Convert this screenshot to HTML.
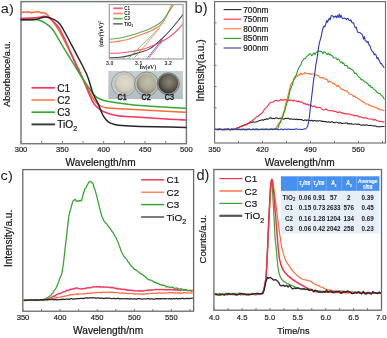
<!DOCTYPE html>
<html><head><meta charset="utf-8"><style>
html,body{margin:0;padding:0;background:#fff;width:387px;height:338px;overflow:hidden}
svg{display:block;font-family:"Liberation Sans", sans-serif;will-change:transform}
</style></head><body>
<svg width="387" height="338" viewBox="0 0 387 338">
<text transform="translate(0.8,13.4) scale(1.12,1)" font-size="13" fill="#1a1a1a">a)</text>
<rect x="21" y="1.6" width="165.4" height="142.1" fill="none" stroke="#737878" stroke-width="1.45"/>
<text x="21.0" y="152.4" font-size="7.6" text-anchor="middle" fill="#1e1e1e" stroke="#1e1e1e" stroke-width="0.2" >300</text>
<text x="62.35" y="152.4" font-size="7.6" text-anchor="middle" fill="#1e1e1e" stroke="#1e1e1e" stroke-width="0.2" >350</text>
<text x="103.7" y="152.4" font-size="7.6" text-anchor="middle" fill="#1e1e1e" stroke="#1e1e1e" stroke-width="0.2" >400</text>
<text x="145.05" y="152.4" font-size="7.6" text-anchor="middle" fill="#1e1e1e" stroke="#1e1e1e" stroke-width="0.2" >450</text>
<text x="186.4" y="152.4" font-size="7.6" text-anchor="middle" fill="#1e1e1e" stroke="#1e1e1e" stroke-width="0.2" >500</text>
<line x1="21.00" y1="143.00" x2="21.00" y2="141.00" stroke="#777b7b" stroke-width="1"/>
<line x1="41.67" y1="143.00" x2="41.67" y2="141.00" stroke="#777b7b" stroke-width="1"/>
<line x1="62.35" y1="143.00" x2="62.35" y2="141.00" stroke="#777b7b" stroke-width="1"/>
<line x1="83.03" y1="143.00" x2="83.03" y2="141.00" stroke="#777b7b" stroke-width="1"/>
<line x1="103.70" y1="143.00" x2="103.70" y2="141.00" stroke="#777b7b" stroke-width="1"/>
<line x1="124.38" y1="143.00" x2="124.38" y2="141.00" stroke="#777b7b" stroke-width="1"/>
<line x1="145.05" y1="143.00" x2="145.05" y2="141.00" stroke="#777b7b" stroke-width="1"/>
<line x1="165.72" y1="143.00" x2="165.72" y2="141.00" stroke="#777b7b" stroke-width="1"/>
<line x1="186.40" y1="143.00" x2="186.40" y2="141.00" stroke="#777b7b" stroke-width="1"/>
<text x="100.6" y="166" font-size="10.15" text-anchor="middle" fill="#111" stroke="#111" stroke-width="0.2" >Wavelength/nm</text>
<text transform="translate(9.8,74) rotate(-90)" font-size="9" text-anchor="middle" fill="#161616" stroke="#161616" stroke-width="0.2">Absorbance/a.u.</text>
<path d="M21.00,12.14 L21.90,12.58 L22.80,12.45 L23.70,12.02 L24.60,12.12 L25.50,12.03 L26.40,12.13 L27.30,12.20 L28.20,11.73 L29.10,11.81 L30.00,12.62 L30.90,12.62 L31.80,12.98 L32.70,12.33 L33.60,12.31 L34.50,12.14 L35.40,11.56 L36.30,12.02 L37.20,12.08 L38.10,11.61 L39.00,11.79 L39.90,12.35 L40.80,12.84 L41.70,12.65 L42.60,12.72 L43.50,13.01 L44.40,12.89 L45.30,13.27 L46.20,13.89 L47.10,14.69 L48.00,15.52 L48.90,16.60 L49.80,17.61 L50.70,18.87 L51.60,19.99 L52.50,21.15 L53.40,22.34 L54.30,23.57 L55.20,24.83 L56.10,26.15 L57.00,27.50 L57.90,28.89 L58.80,30.39 L59.70,31.96 L60.60,33.59 L61.50,35.27 L62.40,36.96 L63.30,38.67 L64.20,40.40 L65.10,42.13 L66.00,43.88 L66.90,45.63 L67.80,47.38 L68.70,49.14 L69.60,50.91 L70.50,52.68 L71.40,54.46 L72.30,56.25 L73.20,58.05 L74.10,59.85 L75.00,61.67 L75.90,63.51 L76.80,65.38 L77.70,67.27 L78.60,69.18 L79.50,71.10 L80.40,73.02 L81.30,74.94 L82.20,76.84 L83.10,78.71 L84.00,80.58 L84.90,82.45 L85.80,84.32 L86.70,86.19 L87.60,88.04 L88.50,89.86 L89.40,91.65 L90.30,93.38 L91.20,95.05 L92.10,96.67 L93.00,98.24 L93.90,99.67 L94.80,100.91 L95.70,101.97 L96.60,102.89 L97.50,103.72 L98.40,104.44 L99.30,105.09 L100.20,105.64 L101.10,106.11 L102.00,106.51 L102.90,106.86 L103.80,107.14 L104.70,107.37 L105.60,107.55 L106.50,107.70 L107.40,107.82 L108.30,107.92 L109.20,108.00 L110.10,108.08 L111.00,108.15 L111.90,108.22 L112.80,108.29 L113.70,108.37 L114.60,108.46 L115.50,108.54 L116.40,108.61 L117.30,108.67 L118.20,108.71 L119.10,108.76 L120.00,108.80 L120.90,108.84 L121.80,108.89 L122.70,108.94 L123.60,108.98 L124.50,109.03 L125.40,109.07 L126.30,109.12 L127.20,109.16 L128.10,109.20 L129.00,109.25 L129.90,109.29 L130.80,109.33 L131.70,109.38 L132.60,109.42 L133.50,109.46 L134.40,109.51 L135.30,109.55 L136.20,109.60 L137.10,109.65 L138.00,109.69 L138.90,109.74 L139.80,109.79 L140.70,109.84 L141.60,109.89 L142.50,109.94 L143.40,109.99 L144.30,110.04 L145.20,110.09 L146.10,110.14 L147.00,110.19 L147.90,110.24 L148.80,110.29 L149.70,110.34 L150.60,110.40 L151.50,110.45 L152.40,110.50 L153.30,110.55 L154.20,110.60 L155.10,110.65 L156.00,110.71 L156.90,110.76 L157.80,110.81 L158.70,110.86 L159.60,110.91 L160.50,110.96 L161.40,111.02 L162.30,111.07 L163.20,111.12 L164.10,111.17 L165.00,111.22 L165.90,111.27 L166.80,111.32 L167.70,111.37 L168.60,111.42 L169.50,111.47 L170.40,111.52 L171.30,111.57 L172.20,111.62 L173.10,111.67 L174.00,111.71 L174.90,111.76 L175.80,111.80 L176.70,111.85 L177.60,111.89 L178.50,111.94 L179.40,111.98 L180.30,112.03 L181.20,112.07 L182.10,112.11 L183.00,112.16 L183.90,112.20 L184.80,112.24 L185.70,112.29" fill="none" stroke="#ff6a36" stroke-width="1.5" stroke-linejoin="round" stroke-linecap="round" />
<path d="M21.00,18.40 C23.33,18.32 31.17,18.23 35.00,17.90 C38.83,17.57 42.00,16.57 44.00,16.40 C46.00,16.23 45.50,16.13 47.00,16.90 C48.50,17.67 51.17,19.37 53.00,21.00 C54.83,22.63 56.67,24.95 58.00,26.70 C59.33,28.45 59.43,28.45 61.00,31.50 C62.57,34.55 64.95,39.55 67.40,45.00 C69.85,50.45 73.10,58.45 75.70,64.20 C78.30,69.95 80.17,73.27 83.00,79.50 C85.83,85.73 90.20,96.87 92.70,101.60 C95.20,106.33 96.23,106.27 98.00,107.90 C99.77,109.53 100.63,110.22 103.30,111.40 C105.97,112.58 110.88,114.20 114.00,115.00 C117.12,115.80 117.67,115.82 122.00,116.20 C126.33,116.58 132.00,116.78 140.00,117.30 C148.00,117.82 162.33,118.85 170.00,119.30 C177.67,119.75 183.33,119.88 186.00,120.00" fill="none" stroke="#f5365e" stroke-width="1.6" stroke-linejoin="round" stroke-linecap="round" />
<path d="M21.00,20.00 C23.33,19.92 31.83,19.42 35.00,19.50 C38.17,19.58 38.17,19.82 40.00,20.50 C41.83,21.18 44.17,22.40 46.00,23.60 C47.83,24.80 49.50,26.12 51.00,27.70 C52.50,29.28 52.60,29.27 55.00,33.10 C57.40,36.93 61.95,45.00 65.40,50.70 C68.85,56.40 72.93,62.80 75.70,67.30 C78.47,71.80 79.77,74.20 82.00,77.70 C84.23,81.20 87.03,85.35 89.10,88.30 C91.17,91.25 92.62,93.62 94.40,95.40 C96.18,97.18 97.43,97.97 99.80,99.00 C102.17,100.03 104.90,100.87 108.60,101.60 C112.30,102.33 116.77,102.75 122.00,103.40 C127.23,104.05 132.00,104.82 140.00,105.50 C148.00,106.18 162.33,107.03 170.00,107.50 C177.67,107.97 183.33,108.17 186.00,108.30" fill="none" stroke="#35a832" stroke-width="1.5" stroke-linejoin="round" stroke-linecap="round" />
<path d="M21.00,19.70 C23.33,19.67 31.17,19.92 35.00,19.50 C38.83,19.08 41.50,17.47 44.00,17.20 C46.50,16.93 47.67,17.10 50.00,17.90 C52.33,18.70 55.78,20.07 58.00,22.00 C60.22,23.93 60.35,24.37 63.30,29.50 C66.25,34.63 71.75,45.22 75.70,52.80 C79.65,60.38 84.17,68.33 87.00,75.00 C89.83,81.67 90.87,88.07 92.70,92.80 C94.53,97.53 96.23,99.55 98.00,103.40 C99.77,107.25 101.53,112.78 103.30,115.90 C105.07,119.02 106.53,120.63 108.60,122.10 C110.67,123.57 113.47,124.12 115.70,124.70 C117.93,125.28 117.95,125.32 122.00,125.60 C126.05,125.88 132.00,126.15 140.00,126.40 C148.00,126.65 162.33,126.93 170.00,127.10 C177.67,127.27 183.33,127.35 186.00,127.40" fill="none" stroke="#262626" stroke-width="1.5" stroke-linejoin="round" stroke-linecap="round" />
<line x1="31.5" y1="87.80" x2="55.1" y2="87.80" stroke="#f5365e" stroke-width="1.7"/>
<text x="57.2" y="91.5" font-size="10.2" text-anchor="start" fill="#161616" stroke="#161616" stroke-width="0.2" >C1</text>
<line x1="31.5" y1="100.00" x2="55.1" y2="100.00" stroke="#ff6a36" stroke-width="1.4"/>
<text x="57.2" y="103.7" font-size="10.2" text-anchor="start" fill="#161616" stroke="#161616" stroke-width="0.2" >C2</text>
<line x1="31.5" y1="112.20" x2="55.1" y2="112.20" stroke="#35a832" stroke-width="1.7"/>
<text x="57.2" y="115.89999999999999" font-size="10.2" text-anchor="start" fill="#161616" stroke="#161616" stroke-width="0.2" >C3</text>
<line x1="31.5" y1="124.40" x2="55.1" y2="124.40" stroke="#3a3a3a" stroke-width="1.9"/>
<text x="57.2" y="128.1" font-size="10.2" text-anchor="start" fill="#161616" stroke="#161616" stroke-width="0.2" >TiO<tspan font-size="7" dy="3">2</tspan></text>
<rect x="109.3" y="4.5" width="73.8" height="54.5" fill="none" stroke="#9aa3a3" stroke-width="1.2"/>
<text transform="translate(102.6,34) rotate(-90)" font-family="Liberation Serif, serif" font-size="5.4" font-weight="bold" text-anchor="middle" fill="#111">(αhν)<tspan dy="-2" font-size="3.6">2</tspan><tspan dy="2">(eV)</tspan><tspan dy="-2" font-size="3.6">2</tspan></text>
<text x="109.7" y="65" font-size="5.2" text-anchor="middle" fill="#333" stroke="#333" stroke-width="0" font-weight="bold">3.0</text>
<text x="138.7" y="65" font-size="5.2" text-anchor="middle" fill="#333" stroke="#333" stroke-width="0" font-weight="bold">3.1</text>
<text x="168.2" y="65" font-size="5.2" text-anchor="middle" fill="#333" stroke="#333" stroke-width="0" font-weight="bold">3.2</text>
<line x1="123.50" y1="59.00" x2="123.50" y2="57.50" stroke="#8a9393" stroke-width="0.8"/>
<line x1="138.10" y1="59.00" x2="138.10" y2="57.50" stroke="#8a9393" stroke-width="0.8"/>
<line x1="153.30" y1="59.00" x2="153.30" y2="57.50" stroke="#8a9393" stroke-width="0.8"/>
<line x1="168.40" y1="59.00" x2="168.40" y2="57.50" stroke="#8a9393" stroke-width="0.8"/>
<text x="148" y="69.3" font-family="Liberation Serif, serif" font-size="5.8" font-weight="bold" text-anchor="middle" fill="#222">hν(eV)</text>
<clipPath id="ci"><rect x="109.8" y="5" width="72.8" height="53.5"/></clipPath>
<g clip-path="url(#ci)">
<path d="M109.50,42.40 C111.25,42.18 116.58,41.72 120.00,41.10 C123.42,40.48 126.67,39.73 130.00,38.70 C133.33,37.67 136.67,36.15 140.00,34.90 C143.33,33.65 146.67,32.77 150.00,31.20 C153.33,29.63 157.50,27.53 160.00,25.50 C162.50,23.47 163.58,21.25 165.00,19.00 C166.42,16.75 167.33,14.50 168.50,12.00 C169.67,9.50 171.42,5.33 172.00,4.00" fill="none" stroke="#ff6a36" stroke-width="1.1" stroke-linejoin="round" stroke-linecap="round" opacity="0.85"/>
<path d="M109.50,39.30 C111.25,39.08 116.58,38.63 120.00,38.00 C123.42,37.37 126.67,36.43 130.00,35.50 C133.33,34.57 136.67,33.53 140.00,32.40 C143.33,31.27 146.67,30.27 150.00,28.70 C153.33,27.13 157.50,24.87 160.00,23.00 C162.50,21.13 163.33,19.67 165.00,17.50 C166.67,15.33 168.50,12.25 170.00,10.00 C171.50,7.75 173.33,5.00 174.00,4.00" fill="none" stroke="#35a832" stroke-width="1.1" stroke-linejoin="round" stroke-linecap="round" opacity="0.85"/>
<path d="M109.50,57.90 C111.25,57.80 116.58,57.72 120.00,57.30 C123.42,56.88 126.67,56.23 130.00,55.40 C133.33,54.57 136.67,53.43 140.00,52.30 C143.33,51.17 146.67,50.57 150.00,48.60 C153.33,46.63 156.67,43.52 160.00,40.50 C163.33,37.48 166.67,34.18 170.00,30.50 C173.33,26.82 177.67,21.32 180.00,18.40 C182.33,15.48 183.33,13.90 184.00,13.00" fill="none" stroke="#262626" stroke-width="1.1" stroke-linejoin="round" stroke-linecap="round" opacity="0.85"/>
<path d="M109.50,53.30 C111.25,53.25 116.58,53.27 120.00,53.00 C123.42,52.73 126.67,52.22 130.00,51.70 C133.33,51.18 136.67,50.73 140.00,49.90 C143.33,49.07 146.67,47.93 150.00,46.70 C153.33,45.47 156.67,44.20 160.00,42.50 C163.33,40.80 167.00,38.67 170.00,36.50 C173.00,34.33 175.67,31.83 178.00,29.50 C180.33,27.17 183.00,23.67 184.00,22.50" fill="none" stroke="#f5365e" stroke-width="1.1" stroke-linejoin="round" stroke-linecap="round" opacity="0.85"/>
<g stroke-dasharray="1.6,1.1">
<path d="M128,58.8 L160,27.5" fill="none" stroke="#35a832" stroke-width="0.8" stroke-linejoin="round" stroke-linecap="round" />
<path d="M133.5,58.8 L159,29" fill="none" stroke="#ff6a36" stroke-width="0.8" stroke-linejoin="round" stroke-linecap="round" />
<path d="M146.5,59 L162,40" fill="none" stroke="#2a3cb0" stroke-width="0.8" stroke-linejoin="round" stroke-linecap="round" />
<path d="M148,59 L163.5,40" fill="none" stroke="#f5365e" stroke-width="0.8" stroke-linejoin="round" stroke-linecap="round" />
</g></g>
<line x1="113.2" y1="8.30" x2="122.7" y2="8.30" stroke="#f55a7a" stroke-width="1.7"/>
<text transform="translate(124.20,10.10) scale(0.9,1)" font-size="5" text-anchor="start" fill="#222" stroke="#222" stroke-width="0" font-weight="bold">C1</text>
<line x1="113.2" y1="13.47" x2="122.7" y2="13.47" stroke="#ff8a5a" stroke-width="1.7"/>
<text transform="translate(124.20,15.27) scale(0.9,1)" font-size="5" text-anchor="start" fill="#222" stroke="#222" stroke-width="0" font-weight="bold">C2</text>
<line x1="113.2" y1="18.64" x2="122.7" y2="18.64" stroke="#55bb50" stroke-width="1.7"/>
<text transform="translate(124.20,20.44) scale(0.9,1)" font-size="5" text-anchor="start" fill="#222" stroke="#222" stroke-width="0" font-weight="bold">C3</text>
<line x1="113.2" y1="23.81" x2="122.7" y2="23.81" stroke="#707070" stroke-width="1.7"/>
<text transform="translate(124.20,25.61) scale(0.9,1)" font-size="5" text-anchor="start" fill="#222" stroke="#222" stroke-width="0" font-weight="bold">TiO<tspan font-size="3.2" dy="1.2">2</tspan></text>
<defs><radialGradient id="d1" cx="0.55" cy="0.42" r="0.62"><stop offset="0" stop-color="#dcdacb"/><stop offset="0.7" stop-color="#d0cebe"/><stop offset="1" stop-color="#a3a595"/></radialGradient><radialGradient id="d2" cx="0.58" cy="0.4" r="0.65"><stop offset="0" stop-color="#c2c1ab"/><stop offset="0.6" stop-color="#aeac96"/><stop offset="1" stop-color="#707263"/></radialGradient><radialGradient id="d3" cx="0.55" cy="0.42" r="0.62"><stop offset="0" stop-color="#8a8676"/><stop offset="0.55" stop-color="#656255"/><stop offset="1" stop-color="#2c2c28"/></radialGradient><linearGradient id="pbg" x1="0" y1="0" x2="0" y2="1"><stop offset="0" stop-color="#c6cfd1"/><stop offset="1" stop-color="#b2bec1"/></linearGradient></defs>
<rect x="108.3" y="71" width="74.6" height="28.1" fill="url(#pbg)"/>
<circle cx="123.8" cy="84" r="12.3" fill="#c9cfcc" stroke="#8e9593" stroke-width="0.9"/>
<circle cx="124.4" cy="83.8" r="9.9" fill="url(#d1)" stroke="#b0b0a2" stroke-width="0.5"/>
<circle cx="146.6" cy="84" r="12" fill="#bcc2be" stroke="#7f8683" stroke-width="0.9"/>
<circle cx="146.6" cy="83.8" r="10.1" fill="url(#d2)"/>
<circle cx="168.3" cy="83.8" r="11" fill="#9fa6a4" stroke="#6a716f" stroke-width="0.9"/>
<circle cx="168.2" cy="83.6" r="9.9" fill="url(#d3)"/>
<text transform="translate(122.10,99.5) scale(0.86,1)" font-size="8.4" text-anchor="middle" fill="#111" stroke="#111" stroke-width="0.35">C1</text>
<text transform="translate(146.20,99.5) scale(0.86,1)" font-size="8.4" text-anchor="middle" fill="#111" stroke="#111" stroke-width="0.35">C2</text>
<text transform="translate(169.30,99.5) scale(0.86,1)" font-size="8.4" text-anchor="middle" fill="#111" stroke="#111" stroke-width="0.35">C3</text>
<text transform="translate(194.6,12.5) scale(1.04,1)" font-size="14" fill="#1a1a1a">b)</text>
<rect x="214.6" y="1.6" width="170.9" height="141.4" fill="none" stroke="#6a7070" stroke-width="1.15"/>
<text x="214.5" y="151.9" font-size="7.6" text-anchor="middle" fill="#1e1e1e" stroke="#1e1e1e" stroke-width="0.2" >350</text>
<text x="262.3" y="151.9" font-size="7.6" text-anchor="middle" fill="#1e1e1e" stroke="#1e1e1e" stroke-width="0.2" >420</text>
<text x="310.3" y="151.9" font-size="7.6" text-anchor="middle" fill="#1e1e1e" stroke="#1e1e1e" stroke-width="0.2" >490</text>
<text x="358.3" y="151.9" font-size="7.6" text-anchor="middle" fill="#1e1e1e" stroke="#1e1e1e" stroke-width="0.2" >560</text>
<line x1="214.50" y1="143.00" x2="214.50" y2="141.00" stroke="#777b7b" stroke-width="1"/>
<line x1="238.50" y1="143.00" x2="238.50" y2="141.00" stroke="#777b7b" stroke-width="1"/>
<line x1="262.50" y1="143.00" x2="262.50" y2="141.00" stroke="#777b7b" stroke-width="1"/>
<line x1="286.50" y1="143.00" x2="286.50" y2="141.00" stroke="#777b7b" stroke-width="1"/>
<line x1="310.50" y1="143.00" x2="310.50" y2="141.00" stroke="#777b7b" stroke-width="1"/>
<line x1="334.50" y1="143.00" x2="334.50" y2="141.00" stroke="#777b7b" stroke-width="1"/>
<line x1="358.50" y1="143.00" x2="358.50" y2="141.00" stroke="#777b7b" stroke-width="1"/>
<line x1="382.50" y1="143.00" x2="382.50" y2="141.00" stroke="#777b7b" stroke-width="1"/>
<line x1="213.6" y1="22.90" x2="216.6" y2="22.90" stroke="#777b7b" stroke-width="1"/>
<line x1="213.6" y1="44.10" x2="216.6" y2="44.10" stroke="#777b7b" stroke-width="1"/>
<line x1="213.6" y1="65.30" x2="216.6" y2="65.30" stroke="#777b7b" stroke-width="1"/>
<line x1="213.6" y1="86.60" x2="216.6" y2="86.60" stroke="#777b7b" stroke-width="1"/>
<line x1="213.6" y1="107.80" x2="216.6" y2="107.80" stroke="#777b7b" stroke-width="1"/>
<text x="299.8" y="165.6" font-size="10.15" text-anchor="middle" fill="#111" stroke="#111" stroke-width="0.2" >Wavelength/nm</text>
<text transform="translate(204.2,70.4) rotate(-90)" font-size="10.3" text-anchor="middle" fill="#161616" stroke="#161616" stroke-width="0.2">Intensity(a.u.)</text>
<clipPath id="cb"><rect x="215.3" y="2.2" width="169.3" height="140.1"/></clipPath><g clip-path="url(#cb)">
<path d="M215.00,129.36 L216.10,129.46 L217.20,129.77 L218.30,129.42 L219.40,129.48 L220.50,129.57 L221.60,129.26 L222.70,129.54 L223.80,129.65 L224.90,129.79 L226.00,129.24 L227.10,129.40 L228.20,129.22 L229.30,129.78 L230.40,129.65 L231.50,129.07 L232.60,129.72 L233.70,129.57 L234.80,129.13 L235.90,128.83 L237.00,128.09 L238.10,127.54 L239.20,127.53 L240.30,126.70 L241.40,126.34 L242.50,125.87 L243.60,125.12 L244.70,124.97 L245.80,124.40 L246.90,124.28 L248.00,123.52 L249.10,123.27 L250.20,122.80 L251.30,122.69 L252.40,122.22 L253.50,121.80 L254.60,122.31 L255.70,122.07 L256.80,121.68 L257.90,121.33 L259.00,120.71 L260.10,120.41 L261.20,120.25 L262.30,119.75 L263.40,120.20 L264.50,119.42 L265.60,119.54 L266.70,118.71 L267.80,119.11 L268.90,118.81 L270.00,117.72 L271.10,117.91 L272.20,118.70 L273.30,118.19 L274.40,118.79 L275.50,118.14 L276.60,117.81 L277.70,118.49 L278.80,118.71 L279.90,118.18 L281.00,118.02 L282.10,118.36 L283.20,119.14 L284.30,118.96 L285.40,118.28 L286.50,118.49 L287.60,118.38 L288.70,118.40 L289.80,119.31 L290.90,118.68 L292.00,119.19 L293.10,119.14 L294.20,118.93 L295.30,119.62 L296.40,119.03 L297.50,119.68 L298.60,119.17 L299.70,119.59 L300.80,119.44 L301.90,119.58 L303.00,120.44 L304.10,120.33 L305.20,119.86 L306.30,120.58 L307.40,119.93 L308.50,120.21 L309.60,120.79 L310.70,120.64 L311.80,120.14 L312.90,121.18 L314.00,120.43 L315.10,120.56 L316.20,121.20 L317.30,120.81 L318.40,120.86 L319.50,120.71 L320.60,120.81 L321.70,121.42 L322.80,121.15 L323.90,121.61 L325.00,121.45 L326.10,121.62 L327.20,122.24 L328.30,121.82 L329.40,122.01 L330.50,122.39 L331.60,121.77 L332.70,121.83 L333.80,122.70 L334.90,122.69 L336.00,122.20 L337.10,122.24 L338.20,122.89 L339.30,123.19 L340.40,122.53 L341.50,123.39 L342.60,123.42 L343.70,123.24 L344.80,123.16 L345.90,122.95 L347.00,122.99 L348.10,124.01 L349.20,123.40 L350.30,123.97 L351.40,123.64 L352.50,124.30 L353.60,124.18 L354.70,123.99 L355.80,123.99 L356.90,124.62 L358.00,124.10 L359.10,124.36 L360.20,124.77 L361.30,125.15 L362.40,125.03 L363.50,124.82 L364.60,125.52 L365.70,124.95 L366.80,124.88 L367.90,125.22 L369.00,125.48 L370.10,125.23 L371.20,125.44 L372.30,125.72 L373.40,126.00 L374.50,125.70 L375.60,126.01 L376.70,126.59 L377.80,126.77 L378.90,126.58 L380.00,126.71 L381.10,126.72 L382.20,126.42 L383.30,126.43 L384.40,126.52" fill="none" stroke="#262626" stroke-width="1.1" stroke-linejoin="round" stroke-linecap="round" />
<path d="M215.00,129.38 L216.10,129.54 L217.20,129.57 L218.30,129.17 L219.40,129.09 L220.50,129.40 L221.60,129.34 L222.70,129.79 L223.80,129.71 L224.90,129.65 L226.00,129.62 L227.10,129.70 L228.20,129.28 L229.30,129.49 L230.40,129.23 L231.50,129.76 L232.60,128.97 L233.70,129.43 L234.80,128.60 L235.90,128.80 L237.00,128.11 L238.10,127.70 L239.20,127.61 L240.30,126.46 L241.40,126.08 L242.50,126.43 L243.60,125.61 L244.70,124.75 L245.80,125.10 L246.90,124.53 L248.00,123.12 L249.10,122.76 L250.20,121.73 L251.30,121.12 L252.40,120.63 L253.50,119.28 L254.60,119.03 L255.70,117.45 L256.80,116.76 L257.90,116.71 L259.00,115.36 L260.10,114.50 L261.20,113.78 L262.30,112.55 L263.40,111.10 L264.50,108.98 L265.60,108.36 L266.70,107.29 L267.80,105.81 L268.90,104.11 L270.00,102.76 L271.10,102.21 L272.20,102.32 L273.30,101.95 L274.40,100.71 L275.50,100.66 L276.60,100.65 L277.70,100.68 L278.80,100.96 L279.90,100.22 L281.00,99.26 L282.10,100.54 L283.20,99.83 L284.30,100.00 L285.40,99.54 L286.50,99.97 L287.60,99.99 L288.70,100.75 L289.80,99.70 L290.90,100.60 L292.00,100.10 L293.10,101.13 L294.20,100.18 L295.30,100.77 L296.40,101.08 L297.50,101.79 L298.60,101.03 L299.70,101.96 L300.80,101.82 L301.90,102.23 L303.00,102.87 L304.10,103.99 L305.20,103.56 L306.30,104.68 L307.40,103.77 L308.50,105.35 L309.60,104.83 L310.70,104.93 L311.80,106.17 L312.90,106.79 L314.00,105.76 L315.10,106.51 L316.20,107.62 L317.30,107.31 L318.40,107.48 L319.50,107.44 L320.60,107.77 L321.70,108.89 L322.80,109.68 L323.90,109.95 L325.00,109.47 L326.10,109.02 L327.20,109.67 L328.30,110.55 L329.40,110.83 L330.50,110.77 L331.60,110.40 L332.70,111.02 L333.80,111.16 L334.90,111.57 L336.00,111.28 L337.10,112.43 L338.20,112.57 L339.30,111.80 L340.40,112.20 L341.50,113.21 L342.60,112.64 L343.70,113.75 L344.80,113.41 L345.90,113.88 L347.00,114.11 L348.10,113.71 L349.20,114.03 L350.30,114.22 L351.40,115.00 L352.50,115.24 L353.60,114.77 L354.70,115.94 L355.80,115.60 L356.90,115.61 L358.00,116.09 L359.10,116.99 L360.20,116.72 L361.30,117.03 L362.40,117.63 L363.50,117.92 L364.60,117.92 L365.70,117.76 L366.80,118.21 L367.90,118.81 L369.00,118.93 L370.10,118.93 L371.20,118.92 L372.30,119.19 L373.40,119.85 L374.50,119.90 L375.60,119.55 L376.70,120.56 L377.80,121.01 L378.90,121.14 L380.00,121.50 L381.10,121.76 L382.20,121.61 L383.30,122.12 L384.40,121.94" fill="none" stroke="#ff2a44" stroke-width="1.1" stroke-linejoin="round" stroke-linecap="round" />
<path d="M215.00,129.21 L216.10,129.55 L217.20,129.55 L218.30,129.68 L219.40,129.15 L220.50,129.19 L221.60,129.13 L222.70,129.19 L223.80,129.60 L224.90,129.12 L226.00,129.44 L227.10,129.19 L228.20,129.26 L229.30,129.37 L230.40,129.70 L231.50,129.52 L232.60,129.04 L233.70,129.25 L234.80,129.15 L235.90,129.74 L237.00,129.69 L238.10,129.69 L239.20,129.71 L240.30,129.64 L241.40,129.81 L242.50,129.68 L243.60,129.26 L244.70,129.73 L245.80,129.44 L246.90,129.66 L248.00,129.51 L249.10,129.40 L250.20,129.35 L251.30,129.40 L252.40,129.31 L253.50,129.15 L254.60,129.71 L255.70,129.70 L256.80,129.85 L257.90,129.61 L259.00,129.50 L260.10,129.65 L261.20,129.16 L262.30,129.59 L263.40,129.40 L264.50,129.18 L265.60,129.20 L266.70,129.45 L267.80,129.23 L268.90,129.39 L270.00,129.49 L271.10,129.32 L272.20,129.09 L273.30,129.37 L274.40,128.81 L275.50,128.75 L276.60,127.06 L277.70,125.43 L278.80,123.42 L279.90,121.92 L281.00,119.68 L282.10,116.09 L283.20,113.42 L284.30,110.32 L285.40,105.09 L286.50,100.70 L287.60,97.20 L288.70,92.81 L289.80,88.39 L290.90,84.33 L292.00,82.32 L293.10,81.19 L294.20,79.46 L295.30,77.92 L296.40,75.43 L297.50,76.32 L298.60,74.56 L299.70,74.97 L300.80,73.07 L301.90,74.83 L303.00,73.59 L304.10,73.73 L305.20,72.35 L306.30,73.45 L307.40,73.47 L308.50,73.66 L309.60,73.26 L310.70,74.45 L311.80,73.74 L312.90,73.94 L314.00,73.96 L315.10,75.67 L316.20,74.64 L317.30,75.37 L318.40,75.44 L319.50,77.34 L320.60,77.60 L321.70,78.06 L322.80,77.34 L323.90,78.83 L325.00,79.12 L326.10,79.06 L327.20,79.40 L328.30,82.30 L329.40,80.81 L330.50,81.80 L331.60,82.31 L332.70,83.65 L333.80,83.09 L334.90,84.58 L336.00,84.98 L337.10,86.64 L338.20,85.47 L339.30,86.83 L340.40,87.83 L341.50,89.48 L342.60,89.18 L343.70,89.75 L344.80,90.80 L345.90,90.71 L347.00,90.85 L348.10,92.45 L349.20,93.92 L350.30,94.25 L351.40,94.00 L352.50,95.49 L353.60,96.48 L354.70,96.07 L355.80,97.38 L356.90,97.71 L358.00,98.32 L359.10,99.24 L360.20,99.92 L361.30,100.95 L362.40,101.12 L363.50,102.35 L364.60,102.42 L365.70,104.05 L366.80,104.30 L367.90,103.82 L369.00,105.52 L370.10,105.06 L371.20,105.97 L372.30,106.53 L373.40,106.63 L374.50,107.00 L375.60,107.66 L376.70,107.64 L377.80,109.14 L378.90,108.47 L380.00,109.92 L381.10,109.48 L382.20,110.03 L383.30,110.58 L384.40,110.52" fill="none" stroke="#ff7236" stroke-width="1.1" stroke-linejoin="round" stroke-linecap="round" />
<path d="M215.00,129.09 L216.10,129.56 L217.20,129.52 L218.30,129.76 L219.40,129.22 L220.50,129.21 L221.60,129.60 L222.70,129.54 L223.80,129.26 L224.90,129.57 L226.00,129.34 L227.10,129.65 L228.20,129.12 L229.30,129.21 L230.40,129.75 L231.50,129.32 L232.60,129.25 L233.70,129.68 L234.80,129.55 L235.90,129.17 L237.00,129.49 L238.10,129.58 L239.20,129.19 L240.30,129.58 L241.40,129.16 L242.50,129.33 L243.60,129.13 L244.70,129.23 L245.80,129.85 L246.90,129.39 L248.00,129.86 L249.10,129.42 L250.20,129.56 L251.30,129.77 L252.40,129.62 L253.50,129.16 L254.60,129.54 L255.70,129.58 L256.80,129.22 L257.90,129.15 L259.00,129.77 L260.10,129.48 L261.20,129.22 L262.30,129.43 L263.40,129.24 L264.50,129.70 L265.60,129.45 L266.70,129.13 L267.80,129.70 L268.90,129.11 L270.00,129.25 L271.10,129.04 L272.20,129.60 L273.30,129.08 L274.40,129.39 L275.50,128.80 L276.60,128.92 L277.70,129.46 L278.80,125.27 L279.90,123.15 L281.00,120.90 L282.10,118.23 L283.20,115.60 L284.30,111.77 L285.40,108.56 L286.50,104.16 L287.60,101.11 L288.70,97.21 L289.80,91.53 L290.90,87.93 L292.00,85.54 L293.10,81.88 L294.20,77.70 L295.30,76.79 L296.40,74.83 L297.50,70.93 L298.60,68.19 L299.70,66.23 L300.80,65.12 L301.90,61.43 L303.00,60.07 L304.10,58.46 L305.20,58.71 L306.30,57.27 L307.40,55.78 L308.50,55.48 L309.60,53.73 L310.70,54.07 L311.80,55.76 L312.90,54.11 L314.00,52.80 L315.10,54.62 L316.20,52.50 L317.30,51.91 L318.40,51.00 L319.50,51.22 L320.60,51.35 L321.70,51.49 L322.80,53.71 L323.90,51.89 L325.00,52.04 L326.10,53.45 L327.20,54.77 L328.30,53.13 L329.40,55.08 L330.50,54.32 L331.60,55.50 L332.70,56.22 L333.80,57.95 L334.90,58.04 L336.00,57.98 L337.10,59.73 L338.20,59.03 L339.30,59.86 L340.40,62.36 L341.50,61.93 L342.60,63.42 L343.70,62.92 L344.80,65.53 L345.90,65.55 L347.00,65.43 L348.10,68.28 L349.20,67.92 L350.30,68.53 L351.40,69.31 L352.50,69.91 L353.60,71.21 L354.70,73.55 L355.80,73.18 L356.90,74.54 L358.00,76.06 L359.10,77.32 L360.20,77.92 L361.30,79.88 L362.40,79.56 L363.50,80.74 L364.60,81.76 L365.70,81.94 L366.80,83.01 L367.90,83.69 L369.00,85.82 L370.10,85.39 L371.20,87.36 L372.30,87.25 L373.40,89.02 L374.50,89.92 L375.60,90.21 L376.70,92.31 L377.80,92.71 L378.90,93.48 L380.00,93.48 L381.10,95.17 L382.20,95.92 L383.30,97.30 L384.40,99.14" fill="none" stroke="#22a322" stroke-width="1.1" stroke-linejoin="round" stroke-linecap="round" />
<path d="M215.00,129.67 L215.90,128.91 L216.80,129.49 L217.70,129.03 L218.60,129.69 L219.50,128.91 L220.40,129.61 L221.30,129.45 L222.20,129.59 L223.10,129.70 L224.00,129.09 L224.90,129.17 L225.80,129.47 L226.70,129.13 L227.60,129.11 L228.50,129.09 L229.40,129.59 L230.30,129.61 L231.20,129.55 L232.10,129.08 L233.00,129.65 L233.90,129.32 L234.80,129.09 L235.70,129.27 L236.60,129.24 L237.50,128.97 L238.40,129.36 L239.30,129.20 L240.20,129.37 L241.10,129.66 L242.00,129.43 L242.90,129.24 L243.80,129.60 L244.70,129.71 L245.60,129.31 L246.50,129.67 L247.40,128.93 L248.30,129.03 L249.20,129.05 L250.10,129.67 L251.00,129.47 L251.90,129.49 L252.80,129.15 L253.70,129.31 L254.60,129.63 L255.50,129.00 L256.40,129.01 L257.30,128.96 L258.20,129.29 L259.10,129.59 L260.00,129.36 L260.90,129.24 L261.80,129.32 L262.70,129.06 L263.60,129.68 L264.50,129.20 L265.40,129.11 L266.30,129.17 L267.20,129.58 L268.10,129.18 L269.00,129.65 L269.90,129.19 L270.80,129.27 L271.70,128.98 L272.60,129.65 L273.50,129.56 L274.40,129.30 L275.30,129.01 L276.20,129.32 L277.10,129.22 L278.00,129.60 L278.90,129.67 L279.80,129.52 L280.70,129.15 L281.60,128.95 L282.50,129.64 L283.40,129.68 L284.30,129.05 L285.20,129.32 L286.10,129.30 L287.00,129.70 L287.90,128.95 L288.80,128.97 L289.70,129.59 L290.60,129.37 L291.50,129.28 L292.40,129.54 L293.30,129.39 L294.20,129.47 L295.10,129.11 L296.00,128.98 L296.90,128.91 L297.80,129.17 L298.70,129.42 L299.60,129.20 L300.50,129.18 L301.40,129.39 L302.30,129.46 L303.20,129.37 L304.10,128.88 L305.00,128.92 L305.90,128.77 L306.80,127.47 L307.70,125.95 L308.60,121.92 L309.50,116.21 L310.40,107.07 L311.30,99.45 L312.20,92.33 L313.10,84.31 L314.00,77.41 L314.90,72.69 L315.80,64.81 L316.70,60.71 L317.60,54.43 L318.50,47.83 L319.40,42.85 L320.30,39.67 L321.20,36.51 L322.10,31.93 L323.00,28.01 L323.90,26.03 L324.80,26.83 L325.70,24.58 L326.60,20.46 L327.50,22.23 L328.40,20.06 L329.30,18.16 L330.20,19.87 L331.10,15.95 L332.00,15.39 L332.90,16.15 L333.80,17.58 L334.70,16.47 L335.60,16.00 L336.50,17.80 L337.40,15.55 L338.30,17.38 L339.20,14.04 L340.10,17.64 L341.00,15.08 L341.90,17.53 L342.80,18.62 L343.70,18.14 L344.60,18.16 L345.50,18.42 L346.40,19.71 L347.30,18.50 L348.20,18.40 L349.10,20.34 L350.00,20.79 L350.90,19.79 L351.80,22.38 L352.70,23.06 L353.60,22.82 L354.50,26.23 L355.40,27.66 L356.30,27.16 L357.20,30.66 L358.10,32.53 L359.00,32.57 L359.90,32.81 L360.80,33.40 L361.70,33.89 L362.60,35.43 L363.50,39.14 L364.40,36.62 L365.30,40.81 L366.20,41.07 L367.10,42.57 L368.00,41.48 L368.90,44.95 L369.80,45.07 L370.70,48.36 L371.60,50.33 L372.50,51.53 L373.40,52.31 L374.30,54.81 L375.20,54.05 L376.10,55.17 L377.00,58.69 L377.90,57.50 L378.80,59.89 L379.70,61.16 L380.60,63.76 L381.50,63.53 L382.40,65.33 L383.30,66.37 L384.20,67.54" fill="none" stroke="#2a3cb0" stroke-width="1.1" stroke-linejoin="round" stroke-linecap="round" />
</g>
<line x1="223.6" y1="9.60" x2="241.3" y2="9.60" stroke="#262626" stroke-width="1.1"/>
<text x="243.3" y="12.6" font-size="8.2" text-anchor="start" fill="#161616" stroke="#161616" stroke-width="0.2" >700nm</text>
<line x1="223.6" y1="19.20" x2="241.3" y2="19.20" stroke="#ff2a44" stroke-width="1.1"/>
<text x="243.3" y="22.2" font-size="8.2" text-anchor="start" fill="#161616" stroke="#161616" stroke-width="0.2" >750nm</text>
<line x1="223.6" y1="28.80" x2="241.3" y2="28.80" stroke="#ff7236" stroke-width="1.1"/>
<text x="243.3" y="31.799999999999997" font-size="8.2" text-anchor="start" fill="#161616" stroke="#161616" stroke-width="0.2" >800nm</text>
<line x1="223.6" y1="38.40" x2="241.3" y2="38.40" stroke="#22a322" stroke-width="1.1"/>
<text x="243.3" y="41.4" font-size="8.2" text-anchor="start" fill="#161616" stroke="#161616" stroke-width="0.2" >850nm</text>
<line x1="223.6" y1="48.00" x2="241.3" y2="48.00" stroke="#2a3cb0" stroke-width="1.1"/>
<text x="243.3" y="51.0" font-size="8.2" text-anchor="start" fill="#161616" stroke="#161616" stroke-width="0.2" >900nm</text>
<text transform="translate(0.6,180.4) scale(1.08,1)" font-size="13.5" fill="#1a1a1a">c)</text>
<rect x="22.8" y="169.6" width="170.79999999999998" height="141.6" fill="none" stroke="#666a6e" stroke-width="1.3"/>
<text x="23" y="319.8" font-size="7.6" text-anchor="middle" fill="#1e1e1e" stroke="#1e1e1e" stroke-width="0.2" >350</text>
<text x="60.1" y="319.8" font-size="7.6" text-anchor="middle" fill="#1e1e1e" stroke="#1e1e1e" stroke-width="0.2" >400</text>
<text x="97.2" y="319.8" font-size="7.6" text-anchor="middle" fill="#1e1e1e" stroke="#1e1e1e" stroke-width="0.2" >450</text>
<text x="134.3" y="319.8" font-size="7.6" text-anchor="middle" fill="#1e1e1e" stroke="#1e1e1e" stroke-width="0.2" >500</text>
<text x="171.4" y="319.8" font-size="7.6" text-anchor="middle" fill="#1e1e1e" stroke="#1e1e1e" stroke-width="0.2" >550</text>
<line x1="23.00" y1="311.00" x2="23.00" y2="309.00" stroke="#777b7b" stroke-width="1"/>
<line x1="41.55" y1="311.00" x2="41.55" y2="309.00" stroke="#777b7b" stroke-width="1"/>
<line x1="60.10" y1="311.00" x2="60.10" y2="309.00" stroke="#777b7b" stroke-width="1"/>
<line x1="78.65" y1="311.00" x2="78.65" y2="309.00" stroke="#777b7b" stroke-width="1"/>
<line x1="97.20" y1="311.00" x2="97.20" y2="309.00" stroke="#777b7b" stroke-width="1"/>
<line x1="115.75" y1="311.00" x2="115.75" y2="309.00" stroke="#777b7b" stroke-width="1"/>
<line x1="134.30" y1="311.00" x2="134.30" y2="309.00" stroke="#777b7b" stroke-width="1"/>
<line x1="152.85" y1="311.00" x2="152.85" y2="309.00" stroke="#777b7b" stroke-width="1"/>
<line x1="171.40" y1="311.00" x2="171.40" y2="309.00" stroke="#777b7b" stroke-width="1"/>
<line x1="189.95" y1="311.00" x2="189.95" y2="309.00" stroke="#777b7b" stroke-width="1"/>
<text x="108.1" y="333.7" font-size="10.15" text-anchor="middle" fill="#111" stroke="#111" stroke-width="0.2" >Wavelength/nm</text>
<text transform="translate(11.7,238.4) rotate(-90)" font-size="10.15" text-anchor="middle" fill="#161616" stroke="#161616" stroke-width="0.2">Intensity/a.u.</text>
<clipPath id="cc"><rect x="23.7" y="170.4" width="169.1" height="140.1"/></clipPath><g clip-path="url(#cc)">
<path d="M23.00,300.62 L23.80,300.03 L24.60,299.92 L25.40,300.59 L26.20,300.00 L27.00,299.94 L27.80,300.30 L28.60,300.07 L29.40,300.44 L30.20,299.96 L31.00,300.46 L31.80,299.99 L32.60,300.17 L33.40,300.38 L34.20,300.19 L35.00,300.34 L35.80,300.16 L36.60,299.68 L37.40,300.24 L38.20,300.01 L39.00,299.78 L39.80,299.67 L40.60,300.10 L41.40,299.87 L42.20,300.08 L43.00,299.92 L43.80,300.01 L44.60,299.68 L45.40,299.71 L46.20,299.59 L47.00,299.26 L47.80,299.66 L48.60,299.11 L49.40,299.33 L50.20,299.34 L51.00,299.00 L51.80,298.51 L52.60,298.84 L53.40,298.58 L54.20,298.09 L55.00,297.83 L55.80,297.99 L56.60,297.47 L57.40,297.92 L58.20,297.45 L59.00,297.28 L59.80,297.04 L60.60,297.05 L61.40,297.07 L62.20,296.49 L63.00,296.38 L63.80,296.37 L64.60,296.01 L65.40,296.05 L66.20,295.84 L67.00,295.60 L67.80,295.60 L68.60,295.33 L69.40,294.85 L70.20,295.33 L71.00,294.72 L71.80,294.63 L72.60,294.47 L73.40,294.71 L74.20,294.62 L75.00,294.22 L75.80,294.08 L76.60,293.82 L77.40,294.37 L78.20,293.86 L79.00,294.13 L79.80,294.00 L80.60,293.99 L81.40,293.99 L82.20,293.84 L83.00,293.68 L83.80,293.95 L84.60,294.04 L85.40,293.85 L86.20,293.43 L87.00,293.67 L87.80,293.11 L88.60,293.25 L89.40,293.43 L90.20,293.39 L91.00,292.97 L91.80,293.14 L92.60,292.81 L93.40,292.74 L94.20,292.71 L95.00,292.93 L95.80,292.70 L96.60,292.47 L97.40,292.61 L98.20,292.52 L99.00,292.28 L99.80,292.56 L100.60,292.56 L101.40,292.40 L102.20,292.62 L103.00,291.97 L103.80,292.31 L104.60,292.41 L105.40,292.21 L106.20,292.10 L107.00,292.48 L107.80,292.31 L108.60,292.22 L109.40,292.08 L110.20,292.75 L111.00,292.35 L111.80,292.21 L112.60,292.31 L113.40,292.37 L114.20,292.83 L115.00,292.39 L115.80,292.51 L116.60,292.43 L117.40,292.74 L118.20,292.61 L119.00,292.76 L119.80,293.09 L120.60,293.28 L121.40,293.27 L122.20,292.77 L123.00,293.07 L123.80,293.45 L124.60,292.94 L125.40,293.12 L126.20,293.37 L127.00,293.36 L127.80,293.67 L128.60,293.70 L129.40,293.58 L130.20,293.48 L131.00,293.52 L131.80,293.60 L132.60,293.50 L133.40,293.97 L134.20,293.65 L135.00,294.21 L135.80,294.07 L136.60,293.69 L137.40,294.04 L138.20,294.13 L139.00,293.76 L139.80,294.09 L140.60,293.77 L141.40,294.28 L142.20,293.75 L143.00,294.17 L143.80,294.39 L144.60,294.26 L145.40,293.79 L146.20,293.96 L147.00,293.62 L147.80,293.70 L148.60,294.00 L149.40,293.90 L150.20,293.26 L151.00,293.45 L151.80,293.56 L152.60,293.17 L153.40,293.54 L154.20,293.55 L155.00,293.26 L155.80,293.08 L156.60,293.37 L157.40,293.10 L158.20,292.84 L159.00,292.88 L159.80,292.77 L160.60,293.23 L161.40,292.98 L162.20,293.10 L163.00,293.17 L163.80,293.27 L164.60,292.72 L165.40,292.86 L166.20,293.18 L167.00,293.09 L167.80,292.83 L168.60,293.01 L169.40,292.68 L170.20,292.66 L171.00,292.58 L171.80,292.80 L172.60,292.70 L173.40,292.90 L174.20,293.21 L175.00,292.64 L175.80,292.92 L176.60,293.14 L177.40,292.95 L178.20,292.90 L179.00,293.07 L179.80,292.55 L180.60,293.20 L181.40,293.02 L182.20,293.10 L183.00,293.12 L183.80,292.61 L184.60,292.59 L185.40,292.67 L186.20,292.90 L187.00,293.20 L187.80,293.18 L188.60,292.84 L189.40,292.98 L190.20,293.07 L191.00,292.78 L191.80,293.23 L192.60,293.21" fill="none" stroke="#ff6a36" stroke-width="1.2" stroke-linejoin="round" stroke-linecap="round" />
<path d="M23.00,300.64 L23.80,300.64 L24.60,300.59 L25.40,299.94 L26.20,300.34 L27.00,300.21 L27.80,300.29 L28.60,299.97 L29.40,300.02 L30.20,300.22 L31.00,300.04 L31.80,300.22 L32.60,299.87 L33.40,299.90 L34.20,300.39 L35.00,300.14 L35.80,300.20 L36.60,300.35 L37.40,300.02 L38.20,299.75 L39.00,300.28 L39.80,300.08 L40.60,300.09 L41.40,299.99 L42.20,300.20 L43.00,299.63 L43.80,299.83 L44.60,299.41 L45.40,299.41 L46.20,299.31 L47.00,298.83 L47.80,298.42 L48.60,298.47 L49.40,298.39 L50.20,297.98 L51.00,297.55 L51.80,297.35 L52.60,296.62 L53.40,296.24 L54.20,295.97 L55.00,295.97 L55.80,295.08 L56.60,294.63 L57.40,294.24 L58.20,293.84 L59.00,293.70 L59.80,293.61 L60.60,293.48 L61.40,292.75 L62.20,292.44 L63.00,292.03 L63.80,291.69 L64.60,291.73 L65.40,291.22 L66.20,290.66 L67.00,290.24 L67.80,290.50 L68.60,290.17 L69.40,290.01 L70.20,289.28 L71.00,289.30 L71.80,289.38 L72.60,288.92 L73.40,289.02 L74.20,288.24 L75.00,288.77 L75.80,287.94 L76.60,288.18 L77.40,287.89 L78.20,288.59 L79.00,288.59 L79.80,288.92 L80.60,288.85 L81.40,289.00 L82.20,288.67 L83.00,288.99 L83.80,288.72 L84.60,288.30 L85.40,288.70 L86.20,288.10 L87.00,287.82 L87.80,287.60 L88.60,287.78 L89.40,287.43 L90.20,287.89 L91.00,287.77 L91.80,287.06 L92.60,286.86 L93.40,287.09 L94.20,286.71 L95.00,286.93 L95.80,287.09 L96.60,286.59 L97.40,286.70 L98.20,287.06 L99.00,286.68 L99.80,286.61 L100.60,287.06 L101.40,287.01 L102.20,287.10 L103.00,286.97 L103.80,286.79 L104.60,287.07 L105.40,287.23 L106.20,287.14 L107.00,286.88 L107.80,287.00 L108.60,287.16 L109.40,287.53 L110.20,287.44 L111.00,287.54 L111.80,287.87 L112.60,287.41 L113.40,287.96 L114.20,287.85 L115.00,288.17 L115.80,288.54 L116.60,288.21 L117.40,288.91 L118.20,288.35 L119.00,288.87 L119.80,288.98 L120.60,288.86 L121.40,289.23 L122.20,289.26 L123.00,289.35 L123.80,289.67 L124.60,289.21 L125.40,289.61 L126.20,290.05 L127.00,289.65 L127.80,290.34 L128.60,289.91 L129.40,290.39 L130.20,290.08 L131.00,290.39 L131.80,290.46 L132.60,290.26 L133.40,290.82 L134.20,290.71 L135.00,290.93 L135.80,290.85 L136.60,290.90 L137.40,290.90 L138.20,290.73 L139.00,291.21 L139.80,290.55 L140.60,291.17 L141.40,291.12 L142.20,290.79 L143.00,290.96 L143.80,290.82 L144.60,290.70 L145.40,290.38 L146.20,290.34 L147.00,290.29 L147.80,290.17 L148.60,290.63 L149.40,290.06 L150.20,290.02 L151.00,289.98 L151.80,290.23 L152.60,289.90 L153.40,289.91 L154.20,289.61 L155.00,289.58 L155.80,289.40 L156.60,289.46 L157.40,289.46 L158.20,289.92 L159.00,289.62 L159.80,289.29 L160.60,289.57 L161.40,289.30 L162.20,289.66 L163.00,289.56 L163.80,289.90 L164.60,289.44 L165.40,289.92 L166.20,289.45 L167.00,290.05 L167.80,289.79 L168.60,289.34 L169.40,289.97 L170.20,289.56 L171.00,289.65 L171.80,289.50 L172.60,290.08 L173.40,289.50 L174.20,290.04 L175.00,289.79 L175.80,290.05 L176.60,289.76 L177.40,289.62 L178.20,290.31 L179.00,290.13 L179.80,289.77 L180.60,290.44 L181.40,290.42 L182.20,289.87 L183.00,289.76 L183.80,290.27 L184.60,289.92 L185.40,290.42 L186.20,290.24 L187.00,290.46 L187.80,290.38 L188.60,290.57 L189.40,290.64 L190.20,290.49 L191.00,290.51 L191.80,290.32 L192.60,290.19" fill="none" stroke="#f5365e" stroke-width="1.4" stroke-linejoin="round" stroke-linecap="round" />
<path d="M23.00,300.49 L23.90,300.58 L24.80,299.98 L25.70,300.70 L26.60,299.97 L27.50,300.40 L28.40,299.87 L29.30,300.46 L30.20,299.91 L31.10,300.40 L32.00,300.40 L32.90,300.43 L33.80,300.11 L34.70,300.48 L35.60,300.56 L36.50,299.74 L37.40,300.07 L38.30,300.41 L39.20,300.16 L40.10,299.83 L41.00,299.62 L41.90,300.10 L42.80,299.19 L43.70,299.62 L44.60,299.47 L45.50,298.55 L46.40,298.32 L47.30,297.81 L48.20,297.37 L49.10,296.42 L50.00,296.01 L50.90,295.18 L51.80,293.79 L52.70,293.34 L53.60,291.45 L54.50,290.13 L55.40,289.11 L56.30,287.48 L57.20,285.43 L58.10,283.27 L59.00,280.71 L59.90,277.89 L60.80,276.47 L61.70,274.11 L62.60,269.00 L63.50,262.94 L64.40,254.99 L65.30,246.87 L66.20,239.23 L67.10,231.07 L68.00,223.06 L68.90,215.80 L69.80,211.78 L70.70,209.17 L71.60,205.43 L72.50,202.47 L73.40,200.45 L74.30,200.03 L75.20,199.20 L76.10,200.92 L77.00,201.27 L77.90,200.86 L78.80,201.36 L79.70,200.59 L80.60,200.49 L81.50,200.78 L82.40,197.68 L83.30,194.01 L84.20,190.95 L85.10,188.27 L86.00,187.98 L86.90,185.65 L87.80,184.13 L88.70,182.20 L89.60,181.92 L90.50,181.32 L91.40,181.77 L92.30,183.33 L93.20,184.07 L94.10,187.74 L95.00,189.87 L95.90,193.11 L96.80,196.18 L97.70,200.39 L98.60,203.83 L99.50,207.54 L100.40,211.03 L101.30,214.36 L102.20,217.03 L103.10,219.05 L104.00,221.01 L104.90,222.10 L105.80,223.15 L106.70,223.81 L107.60,225.14 L108.50,226.45 L109.40,227.65 L110.30,228.54 L111.20,229.98 L112.10,231.57 L113.00,232.40 L113.90,233.96 L114.80,235.85 L115.70,237.12 L116.60,239.29 L117.50,241.06 L118.40,243.03 L119.30,245.89 L120.20,247.99 L121.10,250.93 L122.00,253.01 L122.90,254.42 L123.80,256.25 L124.70,256.97 L125.60,258.41 L126.50,259.35 L127.40,260.43 L128.30,262.33 L129.20,262.84 L130.10,264.80 L131.00,265.57 L131.90,266.74 L132.80,267.12 L133.70,268.78 L134.60,269.48 L135.50,269.60 L136.40,270.35 L137.30,270.96 L138.20,271.90 L139.10,272.13 L140.00,273.37 L140.90,273.68 L141.80,274.46 L142.70,274.67 L143.60,275.66 L144.50,276.16 L145.40,277.08 L146.30,277.61 L147.20,278.81 L148.10,279.27 L149.00,279.78 L149.90,279.81 L150.80,280.11 L151.70,280.50 L152.60,280.89 L153.50,282.05 L154.40,281.83 L155.30,282.74 L156.20,282.55 L157.10,283.27 L158.00,283.29 L158.90,283.70 L159.80,284.44 L160.70,284.65 L161.60,285.28 L162.50,284.96 L163.40,285.29 L164.30,285.39 L165.20,285.80 L166.10,286.74 L167.00,286.60 L167.90,286.74 L168.80,286.81 L169.70,287.38 L170.60,287.49 L171.50,287.18 L172.40,287.24 L173.30,287.51 L174.20,288.23 L175.10,288.30 L176.00,287.99 L176.90,288.14 L177.80,288.35 L178.70,288.83 L179.60,289.05 L180.50,288.75 L181.40,289.00 L182.30,289.07 L183.20,289.87 L184.10,289.67 L185.00,290.17 L185.90,289.69 L186.80,290.19 L187.70,290.29 L188.60,290.76 L189.50,290.40 L190.40,290.43 L191.30,291.10 L192.20,291.37" fill="none" stroke="#35a832" stroke-width="1.3" stroke-linejoin="round" stroke-linecap="round" />
<path d="M23.00,300.07 L23.80,300.42 L24.60,300.36 L25.40,300.23 L26.20,300.03 L27.00,300.42 L27.80,300.41 L28.60,300.19 L29.40,300.17 L30.20,299.96 L31.00,299.78 L31.80,300.02 L32.60,300.15 L33.40,299.77 L34.20,300.26 L35.00,299.85 L35.80,299.84 L36.60,299.69 L37.40,300.34 L38.20,300.14 L39.00,300.22 L39.80,300.02 L40.60,299.59 L41.40,299.78 L42.20,299.88 L43.00,299.60 L43.80,300.17 L44.60,299.74 L45.40,299.57 L46.20,300.02 L47.00,299.52 L47.80,300.06 L48.60,299.71 L49.40,299.77 L50.20,299.60 L51.00,299.68 L51.80,299.46 L52.60,299.34 L53.40,299.90 L54.20,299.44 L55.00,299.80 L55.80,299.39 L56.60,299.90 L57.40,299.83 L58.20,299.72 L59.00,299.71 L59.80,299.56 L60.60,299.63 L61.40,299.17 L62.20,299.38 L63.00,299.59 L63.80,299.11 L64.60,299.58 L65.40,299.51 L66.20,299.14 L67.00,299.07 L67.80,299.09 L68.60,299.01 L69.40,299.40 L70.20,298.93 L71.00,298.64 L71.80,298.65 L72.60,299.05 L73.40,299.20 L74.20,298.82 L75.00,298.78 L75.80,298.78 L76.60,298.88 L77.40,298.47 L78.20,298.71 L79.00,298.63 L79.80,298.64 L80.60,298.29 L81.40,298.25 L82.20,298.33 L83.00,298.70 L83.80,298.21 L84.60,298.31 L85.40,298.03 L86.20,297.81 L87.00,297.70 L87.80,298.15 L88.60,298.05 L89.40,297.69 L90.20,297.82 L91.00,297.74 L91.80,297.82 L92.60,297.86 L93.40,297.54 L94.20,298.02 L95.00,298.07 L95.80,297.89 L96.60,298.16 L97.40,297.96 L98.20,297.95 L99.00,297.93 L99.80,298.45 L100.60,297.98 L101.40,297.93 L102.20,298.46 L103.00,298.45 L103.80,298.26 L104.60,298.53 L105.40,297.99 L106.20,298.15 L107.00,298.19 L107.80,298.30 L108.60,298.14 L109.40,298.09 L110.20,298.29 L111.00,298.70 L111.80,298.77 L112.60,298.62 L113.40,298.45 L114.20,298.31 L115.00,298.82 L115.80,298.53 L116.60,298.69 L117.40,298.22 L118.20,298.36 L119.00,298.82 L119.80,298.80 L120.60,298.88 L121.40,298.70 L122.20,298.59 L123.00,298.72 L123.80,298.92 L124.60,298.56 L125.40,298.73 L126.20,298.57 L127.00,298.93 L127.80,298.41 L128.60,298.90 L129.40,299.11 L130.20,298.47 L131.00,298.89 L131.80,298.94 L132.60,299.10 L133.40,298.93 L134.20,298.71 L135.00,298.83 L135.80,299.24 L136.60,299.22 L137.40,298.69 L138.20,298.68 L139.00,298.70 L139.80,298.66 L140.60,298.96 L141.40,298.74 L142.20,299.24 L143.00,299.08 L143.80,298.70 L144.60,298.98 L145.40,298.83 L146.20,298.94 L147.00,298.74 L147.80,298.69 L148.60,298.70 L149.40,298.83 L150.20,299.05 L151.00,298.93 L151.80,298.57 L152.60,299.03 L153.40,299.14 L154.20,299.06 L155.00,299.06 L155.80,298.51 L156.60,298.82 L157.40,298.53 L158.20,299.01 L159.00,298.59 L159.80,298.96 L160.60,298.63 L161.40,298.94 L162.20,298.66 L163.00,298.46 L163.80,298.70 L164.60,298.63 L165.40,299.04 L166.20,298.61 L167.00,298.75 L167.80,298.77 L168.60,299.04 L169.40,298.44 L170.20,298.79 L171.00,298.71 L171.80,298.86 L172.60,299.02 L173.40,298.55 L174.20,298.82 L175.00,298.69 L175.80,298.70 L176.60,298.35 L177.40,298.87 L178.20,298.97 L179.00,298.53 L179.80,298.50 L180.60,298.96 L181.40,298.33 L182.20,298.31 L183.00,298.30 L183.80,298.81 L184.60,298.76 L185.40,298.54 L186.20,298.65 L187.00,298.22 L187.80,298.65 L188.60,298.50 L189.40,298.55 L190.20,298.45 L191.00,298.45 L191.80,298.32 L192.60,298.19" fill="none" stroke="#262626" stroke-width="1.2" stroke-linejoin="round" stroke-linecap="round" />
</g>
<line x1="141.1" y1="179.80" x2="164.2" y2="179.80" stroke="#f5365e" stroke-width="1.5"/>
<text x="166.6" y="183.4" font-size="9.9" text-anchor="start" fill="#161616" stroke="#161616" stroke-width="0.2" >C1</text>
<line x1="141.1" y1="192.20" x2="164.2" y2="192.20" stroke="#ff6a36" stroke-width="1.2"/>
<text x="166.6" y="195.8" font-size="9.9" text-anchor="start" fill="#161616" stroke="#161616" stroke-width="0.2" >C2</text>
<line x1="141.1" y1="204.60" x2="164.2" y2="204.60" stroke="#35a832" stroke-width="1.5"/>
<text x="166.6" y="208.20000000000002" font-size="9.9" text-anchor="start" fill="#161616" stroke="#161616" stroke-width="0.2" >C3</text>
<line x1="141.1" y1="217.00" x2="164.2" y2="217.00" stroke="#262626" stroke-width="1.2"/>
<text x="166.6" y="220.6" font-size="9.9" text-anchor="start" fill="#161616" stroke="#161616" stroke-width="0.2" >TiO<tspan font-size="7" dy="3.3">2</tspan></text>
<text transform="translate(196.5,180.1) scale(1.04,1)" font-size="14" fill="#1a1a1a">d)</text>
<rect x="213.9" y="169.5" width="167.6" height="140.7" fill="none" stroke="#666a6e" stroke-width="1.3"/>
<text x="214.2" y="320" font-size="7.6" text-anchor="middle" fill="#1e1e1e" stroke="#1e1e1e" stroke-width="0.2" >4.0</text>
<text x="242.1" y="320" font-size="7.6" text-anchor="middle" fill="#1e1e1e" stroke="#1e1e1e" stroke-width="0.2" >4.5</text>
<text x="269.9" y="320" font-size="7.6" text-anchor="middle" fill="#1e1e1e" stroke="#1e1e1e" stroke-width="0.2" >5.0</text>
<text x="297.8" y="320" font-size="7.6" text-anchor="middle" fill="#1e1e1e" stroke="#1e1e1e" stroke-width="0.2" >5.5</text>
<text x="325.7" y="320" font-size="7.6" text-anchor="middle" fill="#1e1e1e" stroke="#1e1e1e" stroke-width="0.2" >6.0</text>
<text x="353.6" y="320" font-size="7.6" text-anchor="middle" fill="#1e1e1e" stroke="#1e1e1e" stroke-width="0.2" >6.5</text>
<text x="381.3" y="320" font-size="7.6" text-anchor="middle" fill="#1e1e1e" stroke="#1e1e1e" stroke-width="0.2" >7.0</text>
<line x1="214.20" y1="310.00" x2="214.20" y2="308.00" stroke="#777b7b" stroke-width="1"/>
<line x1="228.14" y1="310.00" x2="228.14" y2="308.00" stroke="#777b7b" stroke-width="1"/>
<line x1="242.08" y1="310.00" x2="242.08" y2="308.00" stroke="#777b7b" stroke-width="1"/>
<line x1="256.02" y1="310.00" x2="256.02" y2="308.00" stroke="#777b7b" stroke-width="1"/>
<line x1="269.96" y1="310.00" x2="269.96" y2="308.00" stroke="#777b7b" stroke-width="1"/>
<line x1="283.90" y1="310.00" x2="283.90" y2="308.00" stroke="#777b7b" stroke-width="1"/>
<line x1="297.84" y1="310.00" x2="297.84" y2="308.00" stroke="#777b7b" stroke-width="1"/>
<line x1="311.78" y1="310.00" x2="311.78" y2="308.00" stroke="#777b7b" stroke-width="1"/>
<line x1="325.72" y1="310.00" x2="325.72" y2="308.00" stroke="#777b7b" stroke-width="1"/>
<line x1="339.66" y1="310.00" x2="339.66" y2="308.00" stroke="#777b7b" stroke-width="1"/>
<line x1="353.60" y1="310.00" x2="353.60" y2="308.00" stroke="#777b7b" stroke-width="1"/>
<line x1="367.54" y1="310.00" x2="367.54" y2="308.00" stroke="#777b7b" stroke-width="1"/>
<line x1="381.48" y1="310.00" x2="381.48" y2="308.00" stroke="#777b7b" stroke-width="1"/>
<text x="293.4" y="333.5" font-size="9.2" text-anchor="middle" fill="#161616" stroke="#161616" stroke-width="0.2" >Time/ns</text>
<text transform="translate(205.6,239.1) rotate(-90)" font-size="9.5" text-anchor="middle" fill="#161616" stroke="#161616" stroke-width="0.2">Counts/a.u.</text>
<clipPath id="cd"><rect x="214.6" y="170.1" width="166.2" height="139.2"/></clipPath><g clip-path="url(#cd)">
<path d="M262.80,293.18 L263.17,291.55 L263.68,289.76 L264.28,288.31 L264.92,285.06 L265.55,281.32 L266.10,276.15 L266.59,269.24 L267.07,261.21 L267.54,251.74 L267.98,242.38 L268.40,233.14 L268.80,225.34 L269.17,217.88 L269.51,210.87 L269.83,204.58 L270.13,199.44 L270.42,193.87 L270.70,190.15 L270.95,186.75 L271.17,183.56 L271.38,182.35 L271.59,180.31 L271.83,180.47 L272.10,180.34 L272.39,180.12 L272.67,181.57 L272.97,183.13 L273.32,184.76 L273.76,188.31 L274.30,191.62 L275.00,197.65 L275.85,204.10 L276.78,211.83 L277.72,218.45 L278.61,225.72 L279.40,231.82 L280.04,236.36 L280.58,239.76 L281.07,243.74 L281.57,246.61 L282.13,248.78 L282.80,251.35 L283.53,254.48 L284.27,256.58 L285.07,259.00 L285.97,260.89 L287.03,262.82 L288.30,264.52 L289.82,266.82 L291.56,269.38 L293.46,271.86 L295.44,273.65 L297.44,275.85 L299.40,277.24 L301.33,278.80 L303.30,279.47 L305.29,279.83 L307.28,280.25 L309.25,280.81 L311.20,281.54 L313.11,283.28 L315.01,284.28 L316.89,285.17 L318.76,285.51 L320.63,286.97 L322.50,287.23 L324.24,288.64 L325.82,288.97 L327.40,289.55 L329.13,289.84 L331.18,290.04 L333.70,290.85 L336.77,291.31 L340.28,290.89 L344.10,291.35 L348.11,291.89 L352.19,292.06 L356.20,292.01 L360.49,292.28 L365.21,293.01 L370.01,292.53 L374.49,292.64 L378.28,293.27 L381.00,292.98" fill="none" stroke="#ff6a36" stroke-width="1.2" stroke-linejoin="round" stroke-linecap="round" />
<path d="M262.80,293.30 C263.35,290.43 265.15,287.48 266.10,276.10 C267.05,264.72 267.82,239.35 268.50,225.00 C269.18,210.65 269.73,197.58 270.20,190.00 C270.67,182.42 270.92,179.50 271.30,179.50 C271.68,179.50 271.88,180.57 272.50,190.00 C273.12,199.43 274.40,226.57 275.00,236.10 C275.60,245.63 275.55,241.65 276.10,247.20 C276.65,252.75 277.37,264.03 278.30,269.40 C279.23,274.77 280.03,276.98 281.70,279.40 C283.37,281.82 285.35,282.42 288.30,283.90 C291.25,285.38 294.12,287.12 299.40,288.30 C304.68,289.48 306.40,290.25 320.00,291.00 C333.60,291.75 370.83,292.50 381.00,292.80" fill="none" stroke="#35a832" stroke-width="1.2" stroke-linejoin="round" stroke-linecap="round" />
<path d="M262.80,293.30 C263.35,290.43 265.13,287.48 266.10,276.10 C267.07,264.72 267.88,239.35 268.60,225.00 C269.32,210.65 269.87,197.67 270.40,190.00 C270.93,182.33 271.28,179.00 271.80,179.00 C272.32,179.00 272.60,180.48 273.50,190.00 C274.40,199.52 276.22,224.72 277.20,236.10 C278.18,247.48 278.47,252.75 279.40,258.30 C280.33,263.85 281.32,266.43 282.80,269.40 C284.28,272.37 285.53,273.68 288.30,276.10 C291.07,278.52 295.58,281.62 299.40,283.90 C303.22,286.18 307.35,288.43 311.20,289.80 C315.05,291.17 310.87,291.53 322.50,292.10 C334.13,292.67 371.25,293.02 381.00,293.20" fill="none" stroke="#ff2d4a" stroke-width="1.5" stroke-linejoin="round" stroke-linecap="round" />
<path d="M214.50,293.19 L215.40,293.36 L216.30,293.46 L217.20,294.18 L218.10,293.70 L219.00,293.96 L219.90,293.22 L220.80,293.71 L221.70,294.11 L222.60,293.73 L223.50,294.23 L224.40,294.16 L225.30,293.55 L226.20,293.10 L227.10,294.01 L228.00,293.25 L228.90,293.11 L229.80,293.98 L230.70,294.11 L231.60,294.10 L232.50,294.24 L233.40,293.34 L234.30,293.20 L235.20,293.24 L236.10,294.27 L237.00,293.23 L237.90,293.29 L238.80,293.12 L239.70,293.16 L240.60,293.15 L241.50,293.52 L242.40,293.30 L243.30,293.47 L244.20,294.21 L245.10,293.30 L246.00,294.08 L246.90,293.99 L247.80,293.78 L248.70,293.79 L249.60,294.02 L250.50,293.80 L251.40,293.38 L252.30,293.50 L253.20,293.39 L254.10,293.58 L255.00,294.28 L255.90,293.61 L256.80,293.18 L257.70,293.67 L258.60,294.08 L259.50,293.63 L260.40,293.94 L261.30,293.21 L262.20,293.17" fill="none" stroke="#35a832" stroke-width="1.1" stroke-linejoin="round" stroke-linecap="round" />
<path d="M214.50,294.68 L215.40,294.76 L216.30,294.98 L217.20,294.33 L218.10,294.78 L219.00,295.07 L219.90,295.09 L220.80,294.22 L221.70,294.78 L222.60,294.74 L223.50,294.60 L224.40,295.16 L225.30,294.63 L226.20,294.53 L227.10,295.13 L228.00,294.76 L228.90,294.36 L229.80,294.37 L230.70,294.60 L231.60,294.06 L232.50,294.73 L233.40,294.88 L234.30,294.51 L235.20,295.02 L236.10,295.11 L237.00,294.67 L237.90,294.82 L238.80,294.14 L239.70,294.07 L240.60,295.18 L241.50,294.34 L242.40,294.26 L243.30,295.08 L244.20,294.90 L245.10,294.15 L246.00,294.39 L246.90,294.29 L247.80,294.33 L248.70,294.01 L249.60,294.63 L250.50,294.37 L251.40,294.47 L252.30,294.22 L253.20,294.13 L254.10,294.04 L255.00,295.05 L255.90,294.90 L256.80,294.67 L257.70,294.15 L258.60,294.18 L259.50,294.14 L260.40,294.38 L261.30,294.07 L262.20,294.33" fill="none" stroke="#ff2d4a" stroke-width="1.1" stroke-linejoin="round" stroke-linecap="round" />
<path d="M214.50,294.35 L216.10,294.42 L217.70,294.82 L219.30,294.91 L220.90,294.89 L222.50,294.07 L224.10,295.01 L225.70,294.18 L227.30,294.00 L228.90,293.66 L230.50,294.34 L232.10,293.77 L233.70,293.96 L235.30,294.50 L236.90,294.76 L238.50,294.72 L240.10,293.64 L241.70,293.59 L243.30,293.89 L244.90,294.33 L246.50,294.76 L248.10,294.67 L249.70,294.85 L251.30,294.24 L252.90,294.25 L254.50,293.64 L256.10,293.57 L257.70,293.29 L259.30,293.66 L260.90,293.57 L262.50,293.31 L264.10,290.62 L265.70,282.48 L267.30,277.42 L268.90,278.13 L270.50,277.43 L272.10,278.71 L273.70,280.19 L275.30,279.70 L276.90,280.34 L278.50,282.13 L280.10,285.32 L281.70,285.87 L283.30,285.12 L284.90,286.41 L286.50,285.28 L288.10,287.15 L289.70,285.28 L291.30,287.77 L292.90,289.05 L294.50,287.91 L296.10,288.52 L297.70,287.94 L299.30,288.71 L300.90,288.83 L302.50,289.20 L304.10,288.67 L305.70,289.48 L307.30,288.99 L308.90,290.33 L310.50,290.06 L312.10,289.61 L313.70,291.85 L315.30,290.05 L316.90,290.82 L318.50,292.02 L320.10,291.72 L321.70,292.45 L323.30,291.49 L324.90,292.37 L326.50,290.06 L328.10,292.16 L329.70,291.05 L331.30,291.09 L332.90,292.52 L334.50,292.51 L336.10,291.38 L337.70,291.51 L339.30,291.31 L340.90,293.33 L342.50,292.42 L344.10,291.40 L345.70,292.26 L347.30,290.87 L348.90,291.54 L350.50,292.27 L352.10,293.72 L353.70,293.41 L355.30,292.51 L356.90,293.18 L358.50,291.68 L360.10,293.04 L361.70,293.97 L363.30,291.47 L364.90,293.83 L366.50,294.02 L368.10,292.19 L369.70,293.56 L371.30,294.11 L372.90,291.61 L374.50,292.58 L376.10,293.00 L377.70,293.62 L379.30,292.07 L380.90,293.55" fill="none" stroke="#262626" stroke-width="1.3" stroke-linejoin="round" stroke-linecap="round" />
</g>
<line x1="219.4" y1="178.60" x2="242.3" y2="178.60" stroke="#ff2d4a" stroke-width="1.2"/>
<text x="244.6" y="182.2" font-size="9.9" text-anchor="start" fill="#161616" stroke="#161616" stroke-width="0.2" >C1</text>
<line x1="219.4" y1="191.00" x2="242.3" y2="191.00" stroke="#ff6a36" stroke-width="1.4"/>
<text x="244.6" y="194.6" font-size="9.9" text-anchor="start" fill="#161616" stroke="#161616" stroke-width="0.2" >C2</text>
<line x1="219.4" y1="203.40" x2="242.3" y2="203.40" stroke="#35a832" stroke-width="1.2"/>
<text x="244.6" y="207.0" font-size="9.9" text-anchor="start" fill="#161616" stroke="#161616" stroke-width="0.2" >C3</text>
<line x1="219.4" y1="215.80" x2="242.3" y2="215.80" stroke="#555" stroke-width="2.2"/>
<text x="244.6" y="219.4" font-size="9.9" text-anchor="start" fill="#161616" stroke="#161616" stroke-width="0.2" >TiO<tspan font-size="7" dy="3.3">2</tspan></text>
<rect x="280.9" y="176.3" width="98.5" height="14.6" fill="#4690f0"/>
<rect x="280.9" y="190.9" width="98.5" height="42.6" fill="#e6eefa"/>
<line x1="297.5" y1="176.3" x2="297.5" y2="190.9" stroke="#9cc2f0" stroke-width="0.5"/>
<line x1="311.9" y1="176.3" x2="311.9" y2="190.9" stroke="#9cc2f0" stroke-width="0.5"/>
<line x1="326.2" y1="176.3" x2="326.2" y2="190.9" stroke="#9cc2f0" stroke-width="0.5"/>
<line x1="341.7" y1="176.3" x2="341.7" y2="190.9" stroke="#9cc2f0" stroke-width="0.5"/>
<line x1="356.5" y1="176.3" x2="356.5" y2="190.9" stroke="#9cc2f0" stroke-width="0.5"/>
<text transform="translate(304.70,185.40) scale(0.78,1)" font-size="6.4" text-anchor="middle" fill="#fff" stroke="#fff" stroke-width="0.12" font-style="italic" font-weight="bold">τ<tspan font-size="4" dy="1.2">1</tspan><tspan dy="-1.2">/ns</tspan></text>
<text transform="translate(319.00,185.40) scale(0.78,1)" font-size="6.4" text-anchor="middle" fill="#fff" stroke="#fff" stroke-width="0.12" font-style="italic" font-weight="bold">τ<tspan font-size="4" dy="1.2">2</tspan><tspan dy="-1.2">/ns</tspan></text>
<text transform="translate(333.80,185.40) scale(0.78,1)" font-size="6.4" text-anchor="middle" fill="#fff" stroke="#fff" stroke-width="0.12" font-style="italic" font-weight="bold">A<tspan font-size="4" dy="1.2">1</tspan></text>
<text transform="translate(349.00,185.40) scale(0.78,1)" font-size="6.4" text-anchor="middle" fill="#fff" stroke="#fff" stroke-width="0.12" font-style="italic" font-weight="bold">A<tspan font-size="4" dy="1.2">2</tspan></text>
<text transform="translate(367.80,182.60) scale(0.8,1)" font-size="6.2" text-anchor="middle" fill="#fff" stroke="#fff" stroke-width="0.12" font-weight="bold">Average</text>
<text transform="translate(367.80,189.40) scale(0.8,1)" font-size="6.4" text-anchor="middle" fill="#fff" stroke="#fff" stroke-width="0.12" font-style="italic" font-weight="bold">τ/ns</text>
<text transform="translate(289.00,199.60) scale(0.93,1)" font-size="6.8" text-anchor="middle" fill="#1a1a1a" stroke="#1a1a1a" stroke-width="0" font-weight="bold">TiO<tspan font-size="4.6" dy="1.5">2</tspan></text>
<text transform="translate(305.00,199.60) scale(0.93,1)" font-size="6.8" text-anchor="middle" fill="#1a1a1a" stroke="#1a1a1a" stroke-width="0" font-weight="bold">0.06</text>
<text transform="translate(319.20,199.60) scale(0.93,1)" font-size="6.8" text-anchor="middle" fill="#1a1a1a" stroke="#1a1a1a" stroke-width="0" font-weight="bold">0.91</text>
<text transform="translate(333.60,199.60) scale(0.93,1)" font-size="6.8" text-anchor="middle" fill="#1a1a1a" stroke="#1a1a1a" stroke-width="0" font-weight="bold">57</text>
<text transform="translate(348.80,199.60) scale(0.93,1)" font-size="6.8" text-anchor="middle" fill="#1a1a1a" stroke="#1a1a1a" stroke-width="0" font-weight="bold">2</text>
<text transform="translate(367.60,199.60) scale(0.93,1)" font-size="6.8" text-anchor="middle" fill="#1a1a1a" stroke="#1a1a1a" stroke-width="0" font-weight="bold">0.39</text>
<text transform="translate(289.00,210.20) scale(0.93,1)" font-size="6.8" text-anchor="middle" fill="#1a1a1a" stroke="#1a1a1a" stroke-width="0" font-weight="bold">C1</text>
<text transform="translate(305.00,210.20) scale(0.93,1)" font-size="6.8" text-anchor="middle" fill="#1a1a1a" stroke="#1a1a1a" stroke-width="0" font-weight="bold">0.15</text>
<text transform="translate(319.20,210.20) scale(0.93,1)" font-size="6.8" text-anchor="middle" fill="#1a1a1a" stroke="#1a1a1a" stroke-width="0" font-weight="bold">0.73</text>
<text transform="translate(333.60,210.20) scale(0.93,1)" font-size="6.8" text-anchor="middle" fill="#1a1a1a" stroke="#1a1a1a" stroke-width="0" font-weight="bold">2633</text>
<text transform="translate(348.80,210.20) scale(0.93,1)" font-size="6.8" text-anchor="middle" fill="#1a1a1a" stroke="#1a1a1a" stroke-width="0" font-weight="bold">576</text>
<text transform="translate(367.60,210.20) scale(0.93,1)" font-size="6.8" text-anchor="middle" fill="#1a1a1a" stroke="#1a1a1a" stroke-width="0" font-weight="bold">0.45</text>
<text transform="translate(289.00,220.80) scale(0.93,1)" font-size="6.8" text-anchor="middle" fill="#1a1a1a" stroke="#1a1a1a" stroke-width="0" font-weight="bold">C2</text>
<text transform="translate(305.00,220.80) scale(0.93,1)" font-size="6.8" text-anchor="middle" fill="#1a1a1a" stroke="#1a1a1a" stroke-width="0" font-weight="bold">0.16</text>
<text transform="translate(319.20,220.80) scale(0.93,1)" font-size="6.8" text-anchor="middle" fill="#1a1a1a" stroke="#1a1a1a" stroke-width="0" font-weight="bold">1.28</text>
<text transform="translate(333.60,220.80) scale(0.93,1)" font-size="6.8" text-anchor="middle" fill="#1a1a1a" stroke="#1a1a1a" stroke-width="0" font-weight="bold">1204</text>
<text transform="translate(348.80,220.80) scale(0.93,1)" font-size="6.8" text-anchor="middle" fill="#1a1a1a" stroke="#1a1a1a" stroke-width="0" font-weight="bold">134</text>
<text transform="translate(367.60,220.80) scale(0.93,1)" font-size="6.8" text-anchor="middle" fill="#1a1a1a" stroke="#1a1a1a" stroke-width="0" font-weight="bold">0.69</text>
<text transform="translate(289.00,231.40) scale(0.93,1)" font-size="6.8" text-anchor="middle" fill="#1a1a1a" stroke="#1a1a1a" stroke-width="0" font-weight="bold">C3</text>
<text transform="translate(305.00,231.40) scale(0.93,1)" font-size="6.8" text-anchor="middle" fill="#1a1a1a" stroke="#1a1a1a" stroke-width="0" font-weight="bold">0.06</text>
<text transform="translate(319.20,231.40) scale(0.93,1)" font-size="6.8" text-anchor="middle" fill="#1a1a1a" stroke="#1a1a1a" stroke-width="0" font-weight="bold">0.42</text>
<text transform="translate(333.60,231.40) scale(0.93,1)" font-size="6.8" text-anchor="middle" fill="#1a1a1a" stroke="#1a1a1a" stroke-width="0" font-weight="bold">2042</text>
<text transform="translate(348.80,231.40) scale(0.93,1)" font-size="6.8" text-anchor="middle" fill="#1a1a1a" stroke="#1a1a1a" stroke-width="0" font-weight="bold">258</text>
<text transform="translate(367.60,231.40) scale(0.93,1)" font-size="6.8" text-anchor="middle" fill="#1a1a1a" stroke="#1a1a1a" stroke-width="0" font-weight="bold">0.23</text>
</svg></body></html>
